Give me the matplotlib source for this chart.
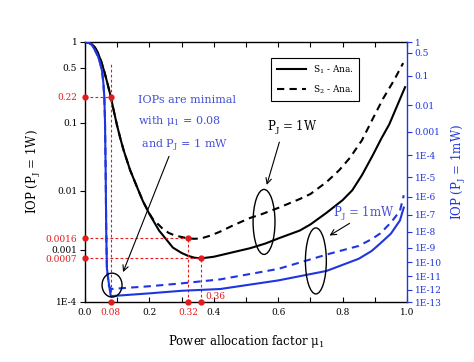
import numpy as np
import matplotlib
matplotlib.use('Agg')
import matplotlib.pyplot as plt
from matplotlib.patches import Ellipse
from matplotlib.ticker import FixedLocator, MultipleLocator, NullLocator

plt.rcParams['font.family'] = 'DejaVu Serif'
plt.rcParams['mathtext.fontset'] = 'dejavuserif'

# S1 / S2 at P_J = 1 W (left axis)
mu_s1 = [0, 0.01, 0.02, 0.03, 0.04, 0.05, 0.06, 0.07, 0.08, 0.09, 0.10, 0.11, 0.12, 0.14,
         0.16, 0.18, 0.20, 0.23, 0.25, 0.273, 0.30, 0.32, 0.34, 0.36, 0.40, 0.45, 0.512,
         0.56, 0.60, 0.667, 0.70, 0.75, 0.80, 0.83, 0.86, 0.894, 0.92, 0.945, 0.97, 0.994]
iop_s1_1w = [1, 0.99, 0.95, 0.88, 0.75, 0.6, 0.45, 0.32, 0.22, 0.14, 0.09, 0.06, 0.041, 0.021,
             0.012, 0.0068, 0.0042, 0.0022, 0.0016, 0.0011, 0.00088, 0.00078, 0.00072, 0.0007,
             0.00075, 0.00088, 0.00107, 0.0013, 0.0016, 0.0022, 0.0028, 0.0044, 0.0071, 0.0102,
             0.0175, 0.035, 0.06, 0.095, 0.17, 0.29]

mu_s2 = [0, 0.01, 0.02, 0.03, 0.04, 0.05, 0.06, 0.07, 0.08, 0.09, 0.10, 0.11, 0.12, 0.14,
         0.16, 0.18, 0.20, 0.21, 0.24, 0.26, 0.28, 0.30, 0.32, 0.34, 0.36, 0.39, 0.419, 0.46,
         0.512, 0.55, 0.60, 0.667, 0.70, 0.75, 0.79, 0.823, 0.86, 0.89, 0.925, 0.96, 0.988]
iop_s2_1w = [1, 0.99, 0.95, 0.88, 0.75, 0.6, 0.45, 0.32, 0.22, 0.14, 0.09, 0.06, 0.041, 0.021,
             0.012, 0.0068, 0.0043, 0.0035, 0.0024, 0.002, 0.0018, 0.0017, 0.0016, 0.00158,
             0.0016, 0.0018, 0.0021, 0.0027, 0.0036, 0.0042, 0.0053, 0.0074, 0.0089, 0.0137,
             0.021, 0.032, 0.057, 0.105, 0.205, 0.355, 0.57]

# S1 / S2 at P_J = 1 mW (right axis)
mu_b1 = [0, 0.01, 0.02, 0.03, 0.04, 0.047, 0.053, 0.057, 0.06, 0.062, 0.064, 0.066, 0.068,
         0.074, 0.08, 0.2, 0.3, 0.42, 0.6, 0.75, 0.85, 0.89, 0.916, 0.95, 0.978, 0.99]
iop_s1_1mw = [1, 0.97, 0.85, 0.62, 0.4, 0.25, 0.14, 0.06, 0.02, 3e-3, 3e-5, 1e-8, 4e-11,
              3e-12, 3e-13, 5e-13, 8e-13, 1.1e-12, 5e-12, 2.5e-11, 1.8e-10, 6e-10, 1.8e-9,
              7.8e-9, 4.8e-8, 2.6e-7]

mu_b2 = [0, 0.01, 0.02, 0.03, 0.04, 0.047, 0.053, 0.057, 0.06, 0.062, 0.064, 0.066, 0.068,
         0.074, 0.08, 0.1, 0.2, 0.3, 0.42, 0.6, 0.76, 0.85, 0.89, 0.916, 0.95, 0.978, 0.99]
iop_s2_1mw = [1, 0.97, 0.85, 0.62, 0.4, 0.25, 0.14, 0.06, 0.02, 3e-3, 3e-5, 1e-8, 4e-11,
              2e-12, 1.1e-12, 1.2e-12, 1.8e-12, 3e-12, 6e-12, 3.5e-11, 4e-10, 1.3e-9, 3.5e-9,
              7.8e-9, 3.6e-8, 1.7e-7, 1.2e-6]

# highlighted points (red guides)
mark_mu = [0.08, 0.32, 0.36]
mark_iop = [0.22, 0.0016, 0.0007]
guide_top = [0.55, 0.0016, 0.0007]

left_ticks = [1e-4, 0.0007, 0.001, 0.0016, 0.01, 0.1, 0.22, 0.5, 1]
left_labels = ['1E-4', '0.0007', '0.001', '0.0016', '0.01', '0.1', '0.22', '0.5', '1']
right_ticks = [1, 0.5, 0.1, 0.01, 0.001] + [10.0 ** -k for k in range(4, 14)]
right_labels = ['1', '0.5', '0.1', '0.01', '0.001'] + ['1E-%d' % k for k in range(4, 14)]
x_ticks = [0, 0.08, 0.2, 0.32, 0.4, 0.6, 0.8, 1.0]
x_labels = ['0.0', '0.08', '0.2', '0.32', '0.4', '0.6', '0.8', '1.0']

RED = '#e41a1c'
BLUE = '#1f35e0'
BLUE_TXT = '#4450d8'


def make_scale(c):
    # compressed log axis, like the original plot
    def fwd(y):
        y = np.asarray(y, dtype=float)
        with np.errstate(all='ignore'):
            return -np.log10(c - np.log10(y))

    def inv(v):
        v = np.asarray(v, dtype=float)
        with np.errstate(all='ignore'):
            return 10.0 ** (c - 10.0 ** (-v))
    return fwd, inv


fig = plt.figure(figsize=(4.74, 3.62), dpi=100)
ax = fig.add_axes([85 / 474, 60 / 362, 322 / 474, 260 / 362])
ax.set_yscale('function', functions=make_scale(5.0))
ax2 = ax.twinx()
ax2.set_yscale('function', functions=make_scale(6.5))

ax.plot(mu_s1, iop_s1_1w, color='k', lw=1.5, label='S$_1$ - Ana.')
ax.plot(mu_s2, iop_s2_1w, color='k', lw=1.5, dashes=(3.5, 2.5), label='S$_2$ - Ana.')
ax2.plot(mu_b1, iop_s1_1mw, color=BLUE, lw=1.5)
ax2.plot(mu_b2, iop_s2_1mw, color=BLUE, lw=1.5, dashes=(3.5, 2.5))

# red guides
for m, v, top in zip(mark_mu, mark_iop, guide_top):
    ax.plot([0, m], [v, v], color=RED, lw=0.8, dashes=(2.5, 2))
    ax.plot([m, m], [1e-4, top], color=RED, lw=0.8, dashes=(2.5, 2))
    ax.plot([0, m, m], [v, v, 1e-4], ls='none', marker='o', ms=3.5,
            color=RED, clip_on=False, zorder=5)

ax.set_xlim(0, 1)
ax.set_ylim(1e-4, 1)
ax2.set_ylim(1e-13, 1)

ax.set_xticks(x_ticks)
ax.set_xticklabels(x_labels)
ax.xaxis.set_minor_locator(MultipleLocator(0.1))
ax.yaxis.set_major_locator(FixedLocator(left_ticks))
ax.set_yticklabels(left_labels)
ax.yaxis.set_minor_locator(NullLocator())
ax2.yaxis.set_major_locator(FixedLocator(right_ticks))
ax2.set_yticklabels(right_labels)
ax2.yaxis.set_minor_locator(NullLocator())

ax.tick_params(axis='x', which='both', direction='in', top=True, length=3.5, width=0.8,
               labelsize=6.5, pad=4)
ax.tick_params(axis='y', direction='out', length=3.5, width=0.8, labelsize=6.5, pad=2)
ax2.tick_params(axis='y', direction='out', length=3.5, width=0.8, labelsize=6.5, pad=2,
                colors=BLUE)

for t, loc in zip(ax.xaxis.get_major_ticks(), x_ticks):
    if loc in mark_mu:
        t.tick1line.set_visible(False)
        t.tick2line.set_visible(False)
        t.label1.set_color(RED)
for t, loc in zip(ax.yaxis.get_major_ticks(), left_ticks):
    if loc in mark_iop:
        t.tick1line.set_visible(False)
        t.label1.set_color(RED)

for s in ['left', 'top', 'bottom']:
    ax.spines[s].set_linewidth(1.0)
ax.spines['right'].set_visible(False)
for s in ['left', 'top', 'bottom']:
    ax2.spines[s].set_visible(False)
ax2.spines['right'].set_color(BLUE)
ax2.spines['right'].set_linewidth(1.0)

ax.set_xlabel('Power allocation factor μ$_1$', fontsize=8.5, labelpad=12)
ax.set_ylabel('IOP (P$_\\mathrm{J}$ = 1W)', fontsize=8.5, labelpad=2)
ax2.set_ylabel('IOP (P$_\\mathrm{J}$ = 1mW)', fontsize=8.5, color=BLUE, labelpad=6)

ax.text(0.375, 0.023, '0.36', color=RED, fontsize=6.5, va='center',
        transform=ax.get_xaxis_transform())

leg = ax.legend(loc='upper left', bbox_to_anchor=(0.565, 0.955), fontsize=6.5,
                fancybox=False, edgecolor='k', handlelength=3.2, borderpad=0.6,
                labelspacing=0.8, framealpha=1)
leg.get_frame().set_linewidth(0.8)

# annotations
ax.text(0.165, 0.795, 'IOPs are minimal\nwith μ$_1$ = 0.08\n and P$_\\mathrm{J}$ = 1 mW',
        transform=ax.transAxes, color=BLUE_TXT, fontsize=8, va='top', linespacing=1.9)
ax.text(0.565, 0.67, 'P$_\\mathrm{J}$ = 1W', transform=ax.transAxes, fontsize=8.5, va='center')
ax.text(0.77, 0.338, 'P$_\\mathrm{J}$ = 1mW', transform=ax.transAxes, fontsize=8.5,
        va='center', color=BLUE_TXT)

for (cx, cy, w, h) in [(0.084, 0.065, 0.062, 0.092), (0.556, 0.308, 0.068, 0.25),
                       (0.717, 0.158, 0.065, 0.254)]:
    ax2.add_patch(Ellipse((cx, cy), w, h, transform=ax.transAxes, fill=False,
                          ec='k', lw=1.0, zorder=6))

arrow = dict(arrowstyle='->,head_length=0.4,head_width=0.2', color='k', lw=0.8)
ax2.annotate('', xy=(0.115, 0.105), xytext=(0.264, 0.57), xycoords='axes fraction',
             arrowprops=arrow)
ax2.annotate('', xy=(0.562, 0.44), xytext=(0.606, 0.625), xycoords='axes fraction',
             arrowprops=arrow)
ax2.annotate('', xy=(0.752, 0.25), xytext=(0.829, 0.308), xycoords='axes fraction',
             arrowprops=arrow)

fig.savefig('out.png', dpi=100)
